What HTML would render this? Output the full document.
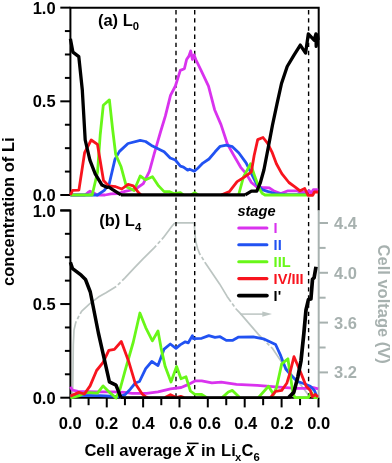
<!DOCTYPE html>
<html><head><meta charset="utf-8"><title>Li concentration</title>
<style>
html,body{margin:0;padding:0;background:#fff;}
svg{display:block}
text{font-family:"Liberation Sans",Arial,Helvetica,sans-serif;font-weight:bold;fill:#000}
</style></head><body>
<svg width="392" height="463" viewBox="0 0 392 463">
<rect width="392" height="463" fill="#fff"/>
<polyline points="72.6,397.0 72.9,380.0 73.3,345.0 74.0,330.0 75.8,322.4 76.3,321.3" fill="none" stroke="#bcc5c2" stroke-width="1.7" stroke-linejoin="round" stroke-linecap="butt" />
<polyline points="77.4,319.1 78.2,317.5 79.0,315.9" fill="none" stroke="#bcc5c2" stroke-width="1.7" stroke-linejoin="round" stroke-linecap="butt" />
<polyline points="80.2,313.8 81.5,311.4 89.3,304.2 98.4,297.1 106.0,292.8 116.2,286.5" fill="none" stroke="#bcc5c2" stroke-width="1.7" stroke-linejoin="round" stroke-linecap="butt" />
<polyline points="117.9,284.8 120.5,282.3" fill="none" stroke="#bcc5c2" stroke-width="1.7" stroke-linejoin="round" stroke-linecap="butt" />
<polyline points="122.2,280.6 125.0,277.8 134.1,268.2 143.0,258.8 154.1,247.9 156.2,245.6" fill="none" stroke="#bcc5c2" stroke-width="1.7" stroke-linejoin="round" stroke-linecap="butt" />
<polyline points="157.8,243.8 160.2,241.1" fill="none" stroke="#bcc5c2" stroke-width="1.7" stroke-linejoin="round" stroke-linecap="butt" />
<polyline points="161.8,239.3 163.3,237.7 171.7,226.5 174.3,223.5 176.5,222.9 194.2,222.9 194.8,231.0 195.6,241.0 197.6,248.5 199.5,253.5 200.4,255.0" fill="none" stroke="#bcc5c2" stroke-width="1.7" stroke-linejoin="round" stroke-linecap="butt" />
<polyline points="201.7,257.0 203.6,260.1" fill="none" stroke="#bcc5c2" stroke-width="1.7" stroke-linejoin="round" stroke-linecap="butt" />
<polyline points="204.8,262.1 205.2,262.7 219.6,283.9 227.1,296.4 230.9,301.7" fill="none" stroke="#bcc5c2" stroke-width="1.7" stroke-linejoin="round" stroke-linecap="butt" />
<polyline points="232.2,303.6 234.3,306.5" fill="none" stroke="#bcc5c2" stroke-width="1.7" stroke-linejoin="round" stroke-linecap="butt" />
<polyline points="235.7,308.5 236.1,309.0 240.3,313.4 258.4,334.4 265.1,341.1" fill="none" stroke="#bcc5c2" stroke-width="1.7" stroke-linejoin="round" stroke-linecap="butt" />
<polyline points="266.8,342.8 269.3,345.3" fill="none" stroke="#bcc5c2" stroke-width="1.7" stroke-linejoin="round" stroke-linecap="butt" />
<polyline points="271.0,347.0 272.7,348.7 280.8,360.9 293.0,376.2 301.2,385.4 307.3,393.6 310.0,398.0" fill="none" stroke="#bcc5c2" stroke-width="1.7" stroke-linejoin="round" stroke-linecap="butt" />
<line x1="240.3" y1="314.1" x2="263" y2="314.1" stroke="#bcc5c2" stroke-width="1.5"/>
<polygon points="262.3,311.5 272,314.1 262.3,316.7" fill="#bcc5c2"/>
<path d="M70.4,195.95 V7.65 H318.7 V210.4" fill="none" stroke="#000" stroke-width="2.0" stroke-linejoin="miter"/>
<path d="M60.3,210.4 H70.4 V397.7 H318.7" fill="none" stroke="#000" stroke-width="2.0"/>
<line x1="318.7" y1="210.4" x2="318.7" y2="398.7" stroke="#a7b1af" stroke-width="2.0"/>
<line x1="60.3" y1="7.65" x2="70.4" y2="7.65" stroke="#000" stroke-width="2.0"/>
<line x1="64.9" y1="31.07" x2="70.4" y2="31.07" stroke="#000" stroke-width="2.0"/>
<line x1="64.9" y1="54.49" x2="70.4" y2="54.49" stroke="#000" stroke-width="2.0"/>
<line x1="64.9" y1="77.91" x2="70.4" y2="77.91" stroke="#000" stroke-width="2.0"/>
<line x1="60.3" y1="101.33" x2="70.4" y2="101.33" stroke="#000" stroke-width="2.0"/>
<line x1="64.9" y1="124.74" x2="70.4" y2="124.74" stroke="#000" stroke-width="2.0"/>
<line x1="64.9" y1="148.16" x2="70.4" y2="148.16" stroke="#000" stroke-width="2.0"/>
<line x1="64.9" y1="171.58" x2="70.4" y2="171.58" stroke="#000" stroke-width="2.0"/>
<line x1="60.3" y1="195.00" x2="70.4" y2="195.00" stroke="#000" stroke-width="2.0"/>
<text x="55.6" y="13.75" font-size="16.5" text-anchor="end">1.0</text>
<text x="55.6" y="107.42" font-size="16.5" text-anchor="end">0.5</text>
<text x="55.6" y="201.10" font-size="16.5" text-anchor="end">0.0</text>
<line x1="60.3" y1="210.40" x2="70.4" y2="210.40" stroke="#000" stroke-width="2.0"/>
<line x1="64.9" y1="233.81" x2="70.4" y2="233.81" stroke="#000" stroke-width="2.0"/>
<line x1="64.9" y1="257.23" x2="70.4" y2="257.23" stroke="#000" stroke-width="2.0"/>
<line x1="64.9" y1="280.64" x2="70.4" y2="280.64" stroke="#000" stroke-width="2.0"/>
<line x1="60.3" y1="304.05" x2="70.4" y2="304.05" stroke="#000" stroke-width="2.0"/>
<line x1="64.9" y1="327.46" x2="70.4" y2="327.46" stroke="#000" stroke-width="2.0"/>
<line x1="64.9" y1="350.88" x2="70.4" y2="350.88" stroke="#000" stroke-width="2.0"/>
<line x1="64.9" y1="374.29" x2="70.4" y2="374.29" stroke="#000" stroke-width="2.0"/>
<line x1="60.3" y1="397.70" x2="70.4" y2="397.70" stroke="#000" stroke-width="2.0"/>
<text x="55.6" y="216.50" font-size="16.5" text-anchor="end">1.0</text>
<text x="55.6" y="310.15" font-size="16.5" text-anchor="end">0.5</text>
<text x="55.6" y="403.80" font-size="16.5" text-anchor="end">0.0</text>
<line x1="70.40" y1="397.7" x2="70.40" y2="407.4" stroke="#000" stroke-width="2.0"/>
<line x1="88.58" y1="397.7" x2="88.58" y2="405.2" stroke="#000" stroke-width="2.0"/>
<line x1="106.76" y1="397.7" x2="106.76" y2="407.4" stroke="#000" stroke-width="2.0"/>
<line x1="124.94" y1="397.7" x2="124.94" y2="405.2" stroke="#000" stroke-width="2.0"/>
<line x1="143.12" y1="397.7" x2="143.12" y2="407.4" stroke="#000" stroke-width="2.0"/>
<line x1="161.30" y1="397.7" x2="161.30" y2="405.2" stroke="#000" stroke-width="2.0"/>
<line x1="179.48" y1="397.7" x2="179.48" y2="407.4" stroke="#000" stroke-width="2.0"/>
<line x1="318.50" y1="397.7" x2="318.50" y2="407.4" stroke="#000" stroke-width="2.0"/>
<line x1="300.05" y1="397.7" x2="300.05" y2="405.2" stroke="#000" stroke-width="2.0"/>
<line x1="281.60" y1="397.7" x2="281.60" y2="407.4" stroke="#000" stroke-width="2.0"/>
<line x1="263.15" y1="397.7" x2="263.15" y2="405.2" stroke="#000" stroke-width="2.0"/>
<line x1="244.70" y1="397.7" x2="244.70" y2="407.4" stroke="#000" stroke-width="2.0"/>
<line x1="226.25" y1="397.7" x2="226.25" y2="405.2" stroke="#000" stroke-width="2.0"/>
<line x1="207.80" y1="397.7" x2="207.80" y2="407.4" stroke="#000" stroke-width="2.0"/>
<text x="70.2" y="428.8" font-size="16.5" text-anchor="middle">0.0</text>
<text x="106.6" y="428.8" font-size="16.5" text-anchor="middle">0.2</text>
<text x="143.2" y="428.8" font-size="16.5" text-anchor="middle">0.4</text>
<text x="180.7" y="428.8" font-size="16.5" text-anchor="middle">0.6</text>
<text x="209.4" y="428.8" font-size="16.5" text-anchor="middle">0.6</text>
<text x="245.7" y="428.8" font-size="16.5" text-anchor="middle">0.4</text>
<text x="282" y="428.8" font-size="16.5" text-anchor="middle">0.2</text>
<text x="318.6" y="428.8" font-size="16.5" text-anchor="middle">0.0</text>
<line x1="318.7" y1="223.00" x2="328" y2="223.00" stroke="#a7b1af" stroke-width="2.0"/>
<line x1="318.7" y1="247.90" x2="325.6" y2="247.90" stroke="#a7b1af" stroke-width="2.0"/>
<line x1="318.7" y1="272.80" x2="328" y2="272.80" stroke="#a7b1af" stroke-width="2.0"/>
<line x1="318.7" y1="297.70" x2="325.6" y2="297.70" stroke="#a7b1af" stroke-width="2.0"/>
<line x1="318.7" y1="322.60" x2="328" y2="322.60" stroke="#a7b1af" stroke-width="2.0"/>
<line x1="318.7" y1="347.50" x2="325.6" y2="347.50" stroke="#a7b1af" stroke-width="2.0"/>
<line x1="318.7" y1="372.40" x2="328" y2="372.40" stroke="#a7b1af" stroke-width="2.0"/>
<text x="334" y="228.80" font-size="16.5" style="fill:#a7b1af">4.4</text>
<text x="334" y="278.60" font-size="16.5" style="fill:#a7b1af">4.0</text>
<text x="334" y="328.60" font-size="16.5" style="fill:#a7b1af">3.6</text>
<text x="334" y="378.30" font-size="16.5" style="fill:#a7b1af">3.2</text>
<line x1="176.0" y1="10.1" x2="176.0" y2="397.7" stroke="#000" stroke-width="1.4" stroke-dasharray="4.35 3.8"/>
<line x1="194.7" y1="10.1" x2="194.7" y2="397.7" stroke="#000" stroke-width="1.4" stroke-dasharray="4.35 3.8"/>
<line x1="308.6" y1="10.1" x2="308.6" y2="397.7" stroke="#000" stroke-width="1.4" stroke-dasharray="4.35 3.8"/>
<polyline points="70.4,195.0 85.0,195.0 88.0,192.5 90.0,191.2 93.0,192.5 97.0,195.0 105.0,195.0 111.0,193.8 118.0,193.5 125.0,191.3 135.6,189.0 143.3,183.6 149.4,171.3 154.0,154.5 160.5,132.0 165.4,115.9 170.5,95.4 175.4,86.0 180.3,70.4 184.4,68.7 186.6,59.5 188.9,56.1 190.7,50.9 192.4,59.5 194.1,54.9 195.8,59.5 201.3,70.8 208.5,86.2 214.6,109.7 221.0,124.6 227.3,143.7 233.5,154.9 240.7,167.3 246.1,173.6 251.4,182.5 256.8,187.0 262.1,187.5 269.3,187.9 274.6,191.4 280.9,193.6 288.0,190.8 297.2,190.8 300.0,192.4 307.0,192.0 309.3,190.8 311.0,193.7 313.3,189.7 316.7,189.7 318.2,190.0" fill="none" stroke="#d932ee" stroke-width="2.8" stroke-linejoin="round" stroke-linecap="butt" />
<polyline points="70.4,195.0 97.5,195.0 104.3,190.4 109.2,184.0 115.0,159.1 119.5,151.4 128.0,143.5 140.2,140.4 145.6,141.5 152.5,146.1 160.0,149.8 164.1,151.8 170.2,158.0 175.3,160.0 180.4,166.1 183.5,167.1 187.6,170.2 189.6,169.2 194.3,171.2 197.8,168.2 202.9,163.1 209.0,159.0 215.1,151.8 220.2,146.3 226.3,145.1 232.4,146.7 238.9,153.0 246.1,162.9 251.4,173.6 256.8,184.3 262.1,189.6 267.5,191.4 276.4,194.0 285.0,194.5 307.0,194.6" fill="none" stroke="#2152f2" stroke-width="2.8" stroke-linejoin="round" stroke-linecap="butt" />
<polyline points="70.4,195.0 92.2,195.0 97.5,172.3 100.2,135.0 103.3,105.2 109.4,99.9 112.7,130.0 115.7,154.5 121.1,166.8 126.4,186.7 134.1,190.5 140.2,176.0 145.6,179.8 152.5,176.7 158.6,185.9 164.1,191.6 169.2,191.6 174.3,193.7 180.4,192.7 183.5,195.0" fill="none" stroke="#68f718" stroke-width="2.8" stroke-linejoin="round" stroke-linecap="butt" />
<polyline points="191.0,195.0 194.7,192.7 198.0,195.0" fill="none" stroke="#68f718" stroke-width="2.8" stroke-linejoin="round" stroke-linecap="butt" />
<polyline points="238.6,195.0 243.4,177.1 250.5,163.8 255.0,177.1 259.5,188.8 262.1,193.2 265.0,195.0 308.0,195.0" fill="none" stroke="#68f718" stroke-width="2.8" stroke-linejoin="round" stroke-linecap="butt" />
<polyline points="70.4,195.0 72.6,190.4 78.9,190.1 84.6,152.7 91.2,140.0 97.5,144.4 103.5,180.6 108.8,185.9 115.7,186.7 121.8,189.0 128.0,184.4 133.3,185.9 138.7,192.8 141.0,195.0" fill="none" stroke="#f8141e" stroke-width="2.8" stroke-linejoin="round" stroke-linecap="butt" />
<polyline points="221.2,195.0 229.4,191.6 237.1,181.6 244.3,177.1 251.4,171.8 254.1,155.7 257.7,139.6 263.0,137.5 267.5,143.2 272.0,152.1 276.4,163.8 281.8,173.6 288.9,182.5 294.9,186.8 300.1,190.8 304.7,188.5 308.1,195.4 312.7,195.4 314.4,192.0 318.2,192.0" fill="none" stroke="#f8141e" stroke-width="2.8" stroke-linejoin="round" stroke-linecap="butt" />
<polyline points="121.0,194.9 245.2,194.9" fill="none" stroke="#000" stroke-width="3.2" stroke-linejoin="round" stroke-linecap="butt" />
<polyline points="70.4,38.8 72.9,52.1 78.8,56.6 82.3,90.0 85.2,140.0 89.9,160.2 95.2,173.8 102.0,185.1 107.3,187.4 108.8,187.0 112.7,189.7 121.0,194.9" fill="none" stroke="#000" stroke-width="3.3" stroke-linejoin="round" stroke-linecap="butt" />
<polyline points="245.2,194.9 251.4,191.1 256.8,191.1 260.4,182.5 263.9,170.0 268.4,146.8 272.5,125.0 277.0,103.9 281.5,83.5 287.2,66.5 294.0,55.1 300.3,45.1 305.6,53.1 308.3,33.9 314.1,40.2 315.9,33.9 316.2,46.4 317.4,34.8 318.2,40.0" fill="none" stroke="#000" stroke-width="3.3" stroke-linejoin="round" stroke-linecap="butt" />
<polyline points="70.4,386.7 72.3,390.0 78.0,391.3 97.4,391.9 113.6,391.9 125.0,392.4 132.0,393.3 146.7,393.3 158.0,391.8 170.5,388.8 181.2,387.5 187.3,384.9 195.5,380.8 201.7,380.8 211.9,382.8 221.2,382.2 236.5,384.3 257.2,385.3 275.6,386.9 296.0,388.4 306.2,388.4 312.3,387.3 316.4,388.4 318.2,389.0" fill="none" stroke="#d932ee" stroke-width="2.8" stroke-linejoin="round" stroke-linecap="butt" />
<polyline points="70.4,395.4 100.0,395.6 120.0,396.6 125.1,394.6 130.3,389.2 135.4,383.0 139.5,381.5 145.7,368.7 151.8,361.5 158.0,365.6 164.1,349.1 170.3,344.0 176.0,348.4 180.1,344.9 185.3,341.8 188.3,342.8 192.4,335.6 193.5,338.7 201.7,338.3 208.8,335.6 215.0,337.3 220.1,336.7 226.3,340.4 232.4,340.4 238.6,337.1 253.2,336.9 263.4,338.8 275.6,344.5 280.7,355.7 285.8,369.0 290.9,375.1 297.0,381.2 304.2,383.7 310.3,386.3 314.4,390.4 316.4,395.5" fill="none" stroke="#2152f2" stroke-width="2.8" stroke-linejoin="round" stroke-linecap="butt" />
<polyline points="70.4,398.0 79.6,395.6 86.1,392.4 97.4,393.2 103.1,385.9 109.6,392.4 116.0,398.0 120.1,389.0 125.1,370.7 133.3,342.0 139.9,313.0 145.7,327.6 152.4,340.9 158.0,331.0 161.1,348.1 165.2,366.6 171.0,382.0 176.6,366.5 181.0,378.8 186.0,376.8 190.4,391.0 194.5,394.1 201.7,394.5 206.8,397.6" fill="none" stroke="#68f718" stroke-width="2.8" stroke-linejoin="round" stroke-linecap="butt" />
<polyline points="222.2,397.6 228.3,392.0 232.4,390.4 239.6,397.6" fill="none" stroke="#68f718" stroke-width="2.8" stroke-linejoin="round" stroke-linecap="butt" />
<polyline points="258.3,397.6 268.5,386.3 273.6,394.5 276.6,387.3 281.7,363.9 287.9,358.8 290.9,379.2 293.0,393.5 295.0,397.6 308.3,397.6 311.3,392.4 314.4,397.6 318.0,397.6" fill="none" stroke="#68f718" stroke-width="2.8" stroke-linejoin="round" stroke-linecap="butt" />
<polyline points="70.4,396.1 78.8,392.4 84.4,394.0 90.1,385.9 96.6,370.5 103.1,362.4 108.8,350.3 114.4,349.4 121.3,341.5 128.6,361.2 135.4,383.8 142.2,394.0 145.6,396.8 148.0,397.6" fill="none" stroke="#f8141e" stroke-width="2.8" stroke-linejoin="round" stroke-linecap="butt" />
<polyline points="165.0,397.6 170.5,394.7 176.2,397.6 180.7,396.3 184.0,397.6" fill="none" stroke="#f8141e" stroke-width="2.8" stroke-linejoin="round" stroke-linecap="butt" />
<polyline points="270.5,397.6 275.6,391.4 281.7,390.4 286.8,383.3 289.9,373.1 294.0,356.7 300.1,371.0 306.2,386.3 310.3,390.4 312.3,396.5 315.4,394.5 318.0,397.0" fill="none" stroke="#f8141e" stroke-width="2.8" stroke-linejoin="round" stroke-linecap="butt" />
<polyline points="120.9,397.6 288.6,397.6" fill="none" stroke="#000" stroke-width="2.7" stroke-linejoin="round" stroke-linecap="butt" />
<polyline points="70.4,262.2 72.6,268.7 81.2,275.2 85.5,279.5 90.3,292.0 98.4,333.0 109.4,381.9 116.0,385.1 120.9,397.6" fill="none" stroke="#000" stroke-width="3.5" stroke-linejoin="round" stroke-linecap="butt" />
<polyline points="288.6,397.6 293.8,392.4 297.8,377.1 301.0,360.8 303.8,334.0 306.0,310.0 308.5,299.5 310.9,299.0 312.5,279.3 314.1,277.7 316.0,266.8" fill="none" stroke="#000" stroke-width="3.7" stroke-linejoin="round" stroke-linecap="butt" />
<text x="97.9" y="25.6" font-size="16.5">(a) L<tspan font-size="11.3" dy="4.4">0</tspan></text>
<text x="99.2" y="226.1" font-size="16.5">(b) L<tspan font-size="11.3" dy="4.8">4</tspan></text>
<text transform="translate(13.8,285.9) rotate(-90)" font-size="16.5">concentration of Li</text>
<text transform="translate(378.1,244.6) rotate(90)" font-size="16.5" style="fill:#a7b1af">Cell voltage (V)</text>
<text x="84.4" y="455.6" font-size="16.5">Cell average</text>
<text x="185.3" y="455.6" font-size="17.8" font-style="italic">x</text>
<text x="201.0" y="455.6" font-size="16.5">in</text>
<text x="221.1" y="455.6" font-size="16.5">Li</text>
<text x="234.9" y="460.5" font-size="11.3">x</text>
<text x="241.5" y="455.6" font-size="16.5">C</text>
<text x="253.5" y="460.5" font-size="11.3">6</text>
<line x1="187.0" y1="443.4" x2="198.6" y2="443.4" stroke="#000" stroke-width="1.6"/>
<text x="237.4" y="215.5" font-size="14.6" font-style="italic">stage</text>
<line x1="238.8" y1="228" x2="266.9" y2="228" stroke="#d932ee" stroke-width="3.1" stroke-linecap="round"/>
<text x="273.6" y="232.9" font-size="14.6" style="fill:#d932ee">I</text>
<line x1="238.8" y1="244.7" x2="266.9" y2="244.7" stroke="#2152f2" stroke-width="3.1" stroke-linecap="round"/>
<text x="273.6" y="249.6" font-size="14.6" style="fill:#2152f2">II</text>
<line x1="238.8" y1="261.7" x2="266.9" y2="261.7" stroke="#68f718" stroke-width="3.1" stroke-linecap="round"/>
<text x="273.6" y="266.59999999999997" font-size="14.6" style="fill:#68f718">IIL</text>
<line x1="238.8" y1="278.6" x2="266.9" y2="278.6" stroke="#f8141e" stroke-width="3.1" stroke-linecap="round"/>
<text x="273.6" y="283.5" font-size="14.6" style="fill:#f8141e">IV/III</text>
<line x1="238.8" y1="295.6" x2="266.9" y2="295.6" stroke="#000" stroke-width="3.7" stroke-linecap="round"/>
<text x="273.6" y="300.5" font-size="14.6" style="fill:#000">I'</text>
</svg></body></html>
